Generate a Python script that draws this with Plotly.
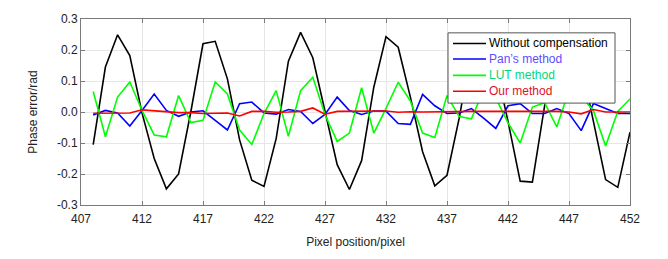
import plotly.graph_objects as go

pixel = list(range(408, 453))

without_comp = [-0.105, 0.145, 0.249, 0.182, -0.003, -0.150, -0.248, -0.200, 0.000, 0.220,
                0.228, 0.107, -0.090, -0.220, -0.240, -0.085, 0.164, 0.257, 0.175, 0.005,
                -0.170, -0.250, -0.157, 0.080, 0.243, 0.209, 0.048, -0.128, -0.238, -0.204,
                -0.020, 0.200, 0.240, 0.150, -0.030, -0.223, -0.226, 0.020, 0.210, 0.250,
                0.160, -0.030, -0.218, -0.243, -0.065]

pan_method = [-0.010, 0.005, -0.003, -0.045, 0.005, 0.058, 0.005, -0.014, 0.000, 0.004,
              -0.027, -0.058, 0.027, 0.032, -0.003, -0.007, 0.008, 0.002, -0.037, -0.008,
              0.048, 0.005, -0.008, 0.003, 0.003, -0.037, -0.040, 0.057, 0.020, -0.005,
              -0.003, 0.011, -0.020, -0.053, 0.020, 0.027, -0.005, -0.005, 0.011, -0.005,
              -0.060, 0.027, 0.011, -0.005, -0.005]

lut_method = [0.066, -0.080, 0.048, 0.097, 0.005, -0.074, -0.080, 0.053, -0.034, -0.027,
              0.097, 0.058, -0.058, -0.105, -0.005, 0.069, -0.078, 0.069, 0.112, -0.008,
              -0.095, -0.068, 0.078, -0.068, 0.012, 0.096, 0.035, -0.068, -0.082, 0.053,
              -0.015, -0.022, 0.070, 0.045, -0.035, -0.100, 0.016, 0.030, -0.048, 0.070,
              0.050, 0.005, -0.110, 0.002, 0.042]

our_method = [-0.004, -0.003, -0.003, -0.003, 0.007, 0.004, 0.001, -0.002, -0.002, -0.005,
              -0.004, -0.003, -0.013, 0.002, 0.002, -0.001, 0.000, 0.002, 0.013, -0.007,
              0.002, 0.002, 0.001, 0.002, 0.003, -0.001, 0.001, 0.000, 0.001, 0.001,
              0.002, 0.002, 0.002, 0.001, 0.002, 0.002, 0.001, 0.002, 0.002, 0.000,
              -0.006, 0.008, 0.000, 0.000, 0.000]

series_names = ["Without compensation", "Pan\u2019s method", "LUT method", "Our method"]
series_values = [without_comp, pan_method, lut_method, our_method]
line_colors = ["#000000", "#0000ff", "#00ff00", "#ff0000"]
label_colors = ["#000000", "#5a4dff", "#00d67a", "#e0102a"]

x_ticks = [407, 412, 417, 422, 427, 432, 437, 442, 447, 452]
y_ticks = [-0.3, -0.2, -0.1, 0.0, 0.1, 0.2, 0.3]
y_tick_text = ["-0.3", "-0.2", "-0.1", "0.0", "0.1", "0.2", "0.3"]

FONT = "Liberation Sans, Arial, sans-serif"

# plot-area geometry in pixels (for placing the legend box)
W, H = 668, 259
ML, MR, MT, MB = 81, 38, 17, 54
PW, PH = W - ML - MR, H - MT - MB


def px_x(p):
    return (p - ML) / PW


def px_y(p):
    return (H - MB - p) / PH


fig = go.Figure()
for name, vals, col in zip(series_names, series_values, line_colors):
    fig.add_trace(go.Scatter(
        x=pixel, y=vals, mode="lines", name=name,
        line=dict(color=col, width=1.6), showlegend=False,
    ))

# manual legend (box, line samples, coloured labels)
shapes = [dict(type="rect", xref="paper", yref="paper",
               x0=px_x(448), x1=px_x(615), y0=px_y(102), y1=px_y(31),
               fillcolor="white", line=dict(color="#555555", width=1), layer="above")]
annotations = []
item_y = [41.7, 57.5, 74, 90]
for yy, name, col, tcol in zip(item_y, series_names, line_colors, label_colors):
    shapes.append(dict(type="line", xref="paper", yref="paper",
                       x0=px_x(453), x1=px_x(486), y0=px_y(yy), y1=px_y(yy),
                       line=dict(color=col, width=1.6), layer="above"))
    annotations.append(dict(xref="paper", yref="paper", x=px_x(487), y=px_y(yy),
                            xanchor="left", yanchor="middle", showarrow=False,
                            text=name, font=dict(family=FONT, size=12, color=tcol)))

axis_common = dict(
    showgrid=True, gridcolor="#e6e6e6", gridwidth=1,
    showline=True, linecolor="#7a7a7a", linewidth=1, mirror="ticks",
    ticks="inside", ticklen=4, tickcolor="#7a7a7a",
    zeroline=False,
    tickfont=dict(family=FONT, size=12, color="#222222"),
)

fig.update_layout(
    width=W, height=H,
    margin=dict(l=ML, r=MR, t=MT, b=MB),
    paper_bgcolor="white", plot_bgcolor="white",
    font=dict(family=FONT, size=12, color="#222222"),
    showlegend=False,
    shapes=shapes,
    annotations=annotations,
    xaxis=dict(range=[407, 452], tickvals=x_ticks, ticklabelstandoff=3,
               title=dict(text="Pixel position/pixel", font=dict(family=FONT, size=12), standoff=12),
               **axis_common),
    yaxis=dict(range=[-0.3, 0.3], tickvals=y_ticks, ticktext=y_tick_text,
               title=dict(text="Phase error/rad", font=dict(family=FONT, size=12), standoff=16),
               **axis_common),
)

fig.write_html("out.html")
